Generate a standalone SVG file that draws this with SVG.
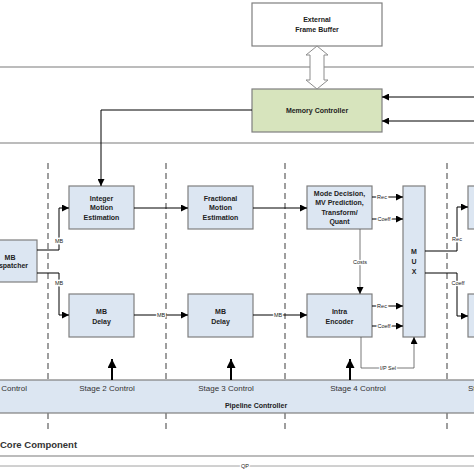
<svg xmlns="http://www.w3.org/2000/svg" width="474" height="474" viewBox="0 0 474 474">
<defs>
<marker id="ah" viewBox="0 0 10 10" refX="10" refY="5" markerWidth="7" markerHeight="7" markerUnits="userSpaceOnUse" orient="auto"><path d="M0,0 L10,5 L0,10 z" fill="#000"/></marker>
<marker id="ahb" viewBox="0 0 10 10" refX="10" refY="5" markerWidth="9" markerHeight="9" markerUnits="userSpaceOnUse" orient="auto"><path d="M0,0 L10,5 L0,10 z" fill="#000"/></marker>
</defs>
<style>
.box{fill:#dce6f2;stroke:#7f7f7f;stroke-width:1.2}
.t{font-family:"Liberation Sans",Arial,sans-serif;font-size:7px;font-weight:bold;fill:#222;text-anchor:middle}
.r{font-family:"Liberation Sans",Arial,sans-serif;font-size:8px;fill:#333;text-anchor:middle}
.l{font-family:"Liberation Sans",Arial,sans-serif;font-size:5.5px;fill:#222;text-anchor:middle;stroke:#fff;stroke-width:2.5;paint-order:stroke}
.c{fill:none;stroke:#000;stroke-width:1}
.g{fill:none;stroke:#555;stroke-width:0.8}
.sep{stroke:#a6a6a6;stroke-width:1.5}
.dash{stroke:#7f7f7f;stroke-width:1.5;stroke-dasharray:6,4}
</style>
<rect width="474" height="474" fill="#fff"/>
<line class="sep" x1="0" y1="67" x2="474" y2="67"/>
<line class="sep" x1="0" y1="143" x2="474" y2="143"/>
<g id="stage-dividers">
<line class="dash" x1="48" y1="163" x2="48" y2="432"/>
<line class="dash" x1="166" y1="163" x2="166" y2="432"/>
<line class="dash" x1="285" y1="163" x2="285" y2="432"/>
<line class="dash" x1="447" y1="163" x2="447" y2="432"/>
</g>
<g id="pipeline-controller">
<rect x="-2" y="380" width="478" height="33" class="box" stroke-width="1.5"/>
<text class="r" x="27" y="391" style="text-anchor:end">Stage 1 Control</text>
<text class="r" x="107" y="391">Stage 2 Control</text>
<text class="r" x="226" y="391">Stage 3 Control</text>
<text class="r" x="358" y="391">Stage 4 Control</text>
<text class="r" x="468" y="391" style="text-anchor:start">Stage 5 Control</text>
<text class="t" x="256" y="408">Pipeline Controller</text>
</g>
<g id="external-frame-buffer">
<rect x="252" y="3" width="130" height="43" fill="#fff" stroke="#7f7f7f" stroke-width="1.2"/>
<text class="t" x="317" y="21.5">External</text>
<text class="t" x="317" y="31.5">Frame Buffer</text>
</g>
<g id="memory-controller">
<rect x="252" y="89" width="130" height="43" fill="#d7e4bd" stroke="#7f7f7f" stroke-width="1.2"/>
<text class="t" x="317" y="112.5">Memory Controller</text>
</g>
<g id="mb-dispatcher">
<rect x="-17" y="240" width="54" height="42" class="box"/>
<text class="t" x="10" y="259.5">MB</text>
<text class="t" x="10" y="268">Dispatcher</text>
</g>
<g id="integer-me">
<rect x="69" y="186" width="65" height="43" class="box"/>
<text class="t" x="101.5" y="200.5">Integer</text>
<text class="t" x="101.5" y="210">Motion</text>
<text class="t" x="101.5" y="219.5">Estimation</text>
</g>
<g id="fractional-me">
<rect x="188" y="186" width="65" height="43" class="box"/>
<text class="t" x="220.5" y="200.5">Fractional</text>
<text class="t" x="220.5" y="210">Motion</text>
<text class="t" x="220.5" y="219.5">Estimation</text>
</g>
<g id="mode-decision">
<rect x="307" y="186" width="65" height="43" class="box"/>
<text class="t" x="339.5" y="195.5">Mode Decision,</text>
<text class="t" x="339.5" y="205">MV Prediction,</text>
<text class="t" x="339.5" y="214.5">Transform/</text>
<text class="t" x="339.5" y="224">Quant</text>
</g>
<g id="mb-delay-1">
<rect x="69" y="294" width="65" height="43" class="box"/>
<text class="t" x="101.5" y="313.5">MB</text>
<text class="t" x="101.5" y="323.5">Delay</text>
</g>
<g id="mb-delay-2">
<rect x="188" y="294" width="65" height="43" class="box"/>
<text class="t" x="220.5" y="313.5">MB</text>
<text class="t" x="220.5" y="323.5">Delay</text>
</g>
<g id="intra-encoder">
<rect x="307" y="294" width="65" height="43" class="box"/>
<text class="t" x="339.5" y="313.5">Intra</text>
<text class="t" x="339.5" y="323.5">Encoder</text>
</g>
<g id="mux">
<rect x="403" y="186" width="22" height="151" class="box"/>
<text class="t" x="414" y="253.5">M</text>
<text class="t" x="414" y="263.5">U</text>
<text class="t" x="414" y="273.5">X</text>
</g>
<g id="stage5-upper">
<rect x="468" y="186" width="20" height="43" class="box"/>
</g>
<g id="stage5-lower">
<rect x="468" y="294" width="20" height="43" class="box"/>
</g>
<g id="connectors">
<path d="M310,55 L306,55 L317,46 L328,55 L324,55 L324,80 L328,80 L317,89 L306,80 L310,80 Z" fill="#fff" stroke="#8c8c8c" stroke-width="1"/>
<line class="c" x1="474" y1="97" x2="382" y2="97" marker-end="url(#ah)"/>
<line class="c" x1="474" y1="121" x2="382" y2="121" marker-end="url(#ah)"/>
<path class="c" d="M252,110 H101 V186" marker-end="url(#ah)"/>
<path class="c" d="M37,250 H59 V208 H69" marker-end="url(#ah)"/>
<text class="l" x="59" y="243">MB</text>
<path class="c" d="M37,273 H59 V315 H69" marker-end="url(#ah)"/>
<text class="l" x="59" y="285">MB</text>
<line class="c" x1="134" y1="208" x2="188" y2="208" marker-end="url(#ah)"/>
<line class="c" x1="253" y1="208" x2="307" y2="208" marker-end="url(#ah)"/>
<line class="c" x1="134" y1="315" x2="188" y2="315" marker-end="url(#ah)"/>
<text class="l" x="161" y="317">MB</text>
<line class="c" x1="253" y1="315" x2="307" y2="315" marker-end="url(#ah)"/>
<text class="l" x="278" y="317">MB</text>
<line class="c" x1="372" y1="197" x2="403" y2="197" marker-end="url(#ah)"/>
<text class="l" x="382" y="199">Rec</text>
<line class="c" x1="372" y1="219" x2="403" y2="219" marker-end="url(#ah)"/>
<text class="l" x="384" y="221">Coeff</text>
<line class="c" x1="372" y1="306" x2="403" y2="306" marker-end="url(#ah)"/>
<text class="l" x="382" y="308">Rec</text>
<line class="c" x1="372" y1="326" x2="403" y2="326" marker-end="url(#ah)"/>
<text class="l" x="384" y="328">Coeff</text>
<line class="g" x1="360" y1="229" x2="360" y2="294" marker-end="url(#ah)"/>
<text class="l" x="360" y="264">Costs</text>
<path class="g" d="M361,337 V368 H414 V337" marker-end="url(#ah)"/>
<text class="l" x="388" y="370">I/P Sel</text>
<path class="c" d="M425,251 H457 V207 H468" marker-end="url(#ah)"/>
<text class="l" x="457" y="241">Rec</text>
<path class="c" d="M425,273 H457 V316 H468" marker-end="url(#ah)"/>
<text class="l" x="458" y="285">Coeff</text>
<line x1="112" y1="380" x2="112" y2="359" stroke="#000" stroke-width="2" marker-end="url(#ahb)"/>
<line x1="231" y1="380" x2="231" y2="359" stroke="#000" stroke-width="2" marker-end="url(#ahb)"/>
<line x1="350" y1="380" x2="350" y2="359" stroke="#000" stroke-width="2" marker-end="url(#ahb)"/>
<line x1="0" y1="466" x2="474" y2="466" stroke="#8c8c8c" stroke-width="0.8"/>
<text class="l" x="245" y="468">QP</text>
</g>
<text x="0" y="448" font-family="'Liberation Sans',Arial,sans-serif" font-size="9.5" font-weight="bold" fill="#333">Core Component</text>
<line class="sep" x1="0" y1="456" x2="474" y2="456"/>
</svg>
